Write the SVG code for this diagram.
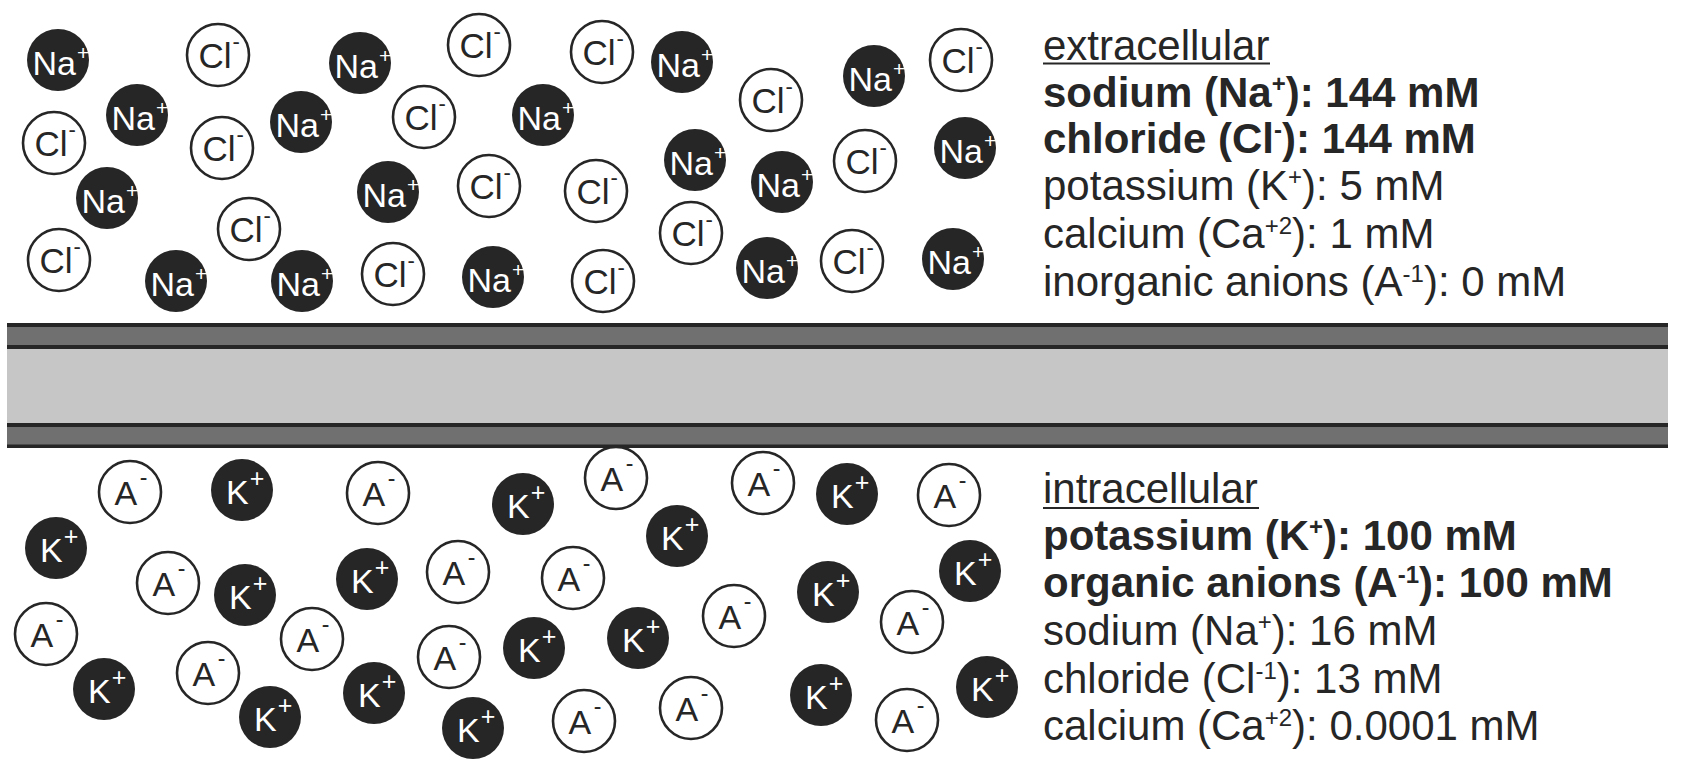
<svg xmlns="http://www.w3.org/2000/svg" xmlns:xlink="http://www.w3.org/1999/xlink" width="1684" height="782" viewBox="0 0 1684 782">
<style>
.ion text{font-family:"Liberation Sans",Arial,sans-serif}
.pos circle{fill:#262626}
.pos text{fill:#fff}
.neg circle{fill:#fff;stroke:#262626;stroke-width:2.6}
.neg text{fill:#262626}
.na text{font-size:34px}
.na tspan{font-size:21px}
.cl text{font-size:35px}
.cl tspan{font-size:22px}
.k text{font-size:34px}
.k tspan{font-size:25px}
.a text{font-size:34px}
.a tspan{font-size:23px}
.lg{font-family:"Liberation Sans",Arial,sans-serif;font-size:42px;fill:#262626}
.b{font-weight:bold}
.sp{font-size:24px}
.ul{stroke:#262626;stroke-width:2}
</style>
<rect width="1684" height="782" fill="#fff"/>
<g id="membrane">
<rect x="7" y="323" width="1661" height="125" fill="#707070"/>
<rect x="7" y="349" width="1661" height="74" fill="#c6c6c6"/>
<rect x="7" y="323" width="1661" height="4" fill="#262626"/>
<rect x="7" y="345" width="1661" height="4" fill="#262626"/>
<rect x="7" y="423" width="1661" height="4" fill="#262626"/>
<rect x="7" y="444.5" width="1661" height="3.5" fill="#262626"/>
</g>
<g id="extracellular-ions">
<g id="na1" class="ion pos na" transform="translate(58,60)"><circle r="31"/><text x="-25.5" y="15">Na<tspan dx="1" dy="-15">+</tspan></text></g>
<g id="na2" class="ion pos na" transform="translate(137,115)"><circle r="31"/><text x="-25.5" y="15">Na<tspan dx="1" dy="-15">+</tspan></text></g>
<g id="na3" class="ion pos na" transform="translate(107,198)"><circle r="31"/><text x="-25.5" y="15">Na<tspan dx="1" dy="-15">+</tspan></text></g>
<g id="na4" class="ion pos na" transform="translate(176,281)"><circle r="31"/><text x="-25.5" y="15">Na<tspan dx="1" dy="-15">+</tspan></text></g>
<g id="na5" class="ion pos na" transform="translate(302,281)"><circle r="31"/><text x="-25.5" y="15">Na<tspan dx="1" dy="-15">+</tspan></text></g>
<g id="na6" class="ion pos na" transform="translate(301,122)"><circle r="31"/><text x="-25.5" y="15">Na<tspan dx="1" dy="-15">+</tspan></text></g>
<g id="na7" class="ion pos na" transform="translate(360,63)"><circle r="31"/><text x="-25.5" y="15">Na<tspan dx="1" dy="-15">+</tspan></text></g>
<g id="na8" class="ion pos na" transform="translate(388,192)"><circle r="31"/><text x="-25.5" y="15">Na<tspan dx="1" dy="-15">+</tspan></text></g>
<g id="na9" class="ion pos na" transform="translate(493,277)"><circle r="31"/><text x="-25.5" y="15">Na<tspan dx="1" dy="-15">+</tspan></text></g>
<g id="na10" class="ion pos na" transform="translate(543,115)"><circle r="31"/><text x="-25.5" y="15">Na<tspan dx="1" dy="-15">+</tspan></text></g>
<g id="na11" class="ion pos na" transform="translate(682,62)"><circle r="31"/><text x="-25.5" y="15">Na<tspan dx="1" dy="-15">+</tspan></text></g>
<g id="na12" class="ion pos na" transform="translate(695,160)"><circle r="31"/><text x="-25.5" y="15">Na<tspan dx="1" dy="-15">+</tspan></text></g>
<g id="na13" class="ion pos na" transform="translate(782,182)"><circle r="31"/><text x="-25.5" y="15">Na<tspan dx="1" dy="-15">+</tspan></text></g>
<g id="na14" class="ion pos na" transform="translate(767,268)"><circle r="31"/><text x="-25.5" y="15">Na<tspan dx="1" dy="-15">+</tspan></text></g>
<g id="na15" class="ion pos na" transform="translate(874,76)"><circle r="31"/><text x="-25.5" y="15">Na<tspan dx="1" dy="-15">+</tspan></text></g>
<g id="na16" class="ion pos na" transform="translate(965,148)"><circle r="31"/><text x="-25.5" y="15">Na<tspan dx="1" dy="-15">+</tspan></text></g>
<g id="na17" class="ion pos na" transform="translate(953,259)"><circle r="31"/><text x="-25.5" y="15">Na<tspan dx="1" dy="-15">+</tspan></text></g>
<g id="cl1" class="ion neg cl" transform="translate(218,55)"><circle r="31"/><text x="-19.5" y="13">Cl<tspan dx="1" dy="-19">-</tspan></text></g>
<g id="cl2" class="ion neg cl" transform="translate(54,143)"><circle r="31"/><text x="-19.5" y="13">Cl<tspan dx="1" dy="-19">-</tspan></text></g>
<g id="cl3" class="ion neg cl" transform="translate(222,148)"><circle r="31"/><text x="-19.5" y="13">Cl<tspan dx="1" dy="-19">-</tspan></text></g>
<g id="cl4" class="ion neg cl" transform="translate(249,229)"><circle r="31"/><text x="-19.5" y="13">Cl<tspan dx="1" dy="-19">-</tspan></text></g>
<g id="cl5" class="ion neg cl" transform="translate(59,260)"><circle r="31"/><text x="-19.5" y="13">Cl<tspan dx="1" dy="-19">-</tspan></text></g>
<g id="cl6" class="ion neg cl" transform="translate(393,274)"><circle r="31"/><text x="-19.5" y="13">Cl<tspan dx="1" dy="-19">-</tspan></text></g>
<g id="cl7" class="ion neg cl" transform="translate(424,117)"><circle r="31"/><text x="-19.5" y="13">Cl<tspan dx="1" dy="-19">-</tspan></text></g>
<g id="cl8" class="ion neg cl" transform="translate(479,45)"><circle r="31"/><text x="-19.5" y="13">Cl<tspan dx="1" dy="-19">-</tspan></text></g>
<g id="cl9" class="ion neg cl" transform="translate(489,186)"><circle r="31"/><text x="-19.5" y="13">Cl<tspan dx="1" dy="-19">-</tspan></text></g>
<g id="cl10" class="ion neg cl" transform="translate(602,52)"><circle r="31"/><text x="-19.5" y="13">Cl<tspan dx="1" dy="-19">-</tspan></text></g>
<g id="cl11" class="ion neg cl" transform="translate(596,191)"><circle r="31"/><text x="-19.5" y="13">Cl<tspan dx="1" dy="-19">-</tspan></text></g>
<g id="cl12" class="ion neg cl" transform="translate(603,281)"><circle r="31"/><text x="-19.5" y="13">Cl<tspan dx="1" dy="-19">-</tspan></text></g>
<g id="cl13" class="ion neg cl" transform="translate(691,233)"><circle r="31"/><text x="-19.5" y="13">Cl<tspan dx="1" dy="-19">-</tspan></text></g>
<g id="cl14" class="ion neg cl" transform="translate(771,100)"><circle r="31"/><text x="-19.5" y="13">Cl<tspan dx="1" dy="-19">-</tspan></text></g>
<g id="cl15" class="ion neg cl" transform="translate(865,161)"><circle r="31"/><text x="-19.5" y="13">Cl<tspan dx="1" dy="-19">-</tspan></text></g>
<g id="cl16" class="ion neg cl" transform="translate(852,261)"><circle r="31"/><text x="-19.5" y="13">Cl<tspan dx="1" dy="-19">-</tspan></text></g>
<g id="cl17" class="ion neg cl" transform="translate(961,60)"><circle r="31"/><text x="-19.5" y="13">Cl<tspan dx="1" dy="-19">-</tspan></text></g>
</g>
<g id="intracellular-ions">
<g id="k1" class="ion pos k" transform="translate(242,490)"><circle r="31"/><text x="-16" y="14">K<tspan dx="1" dy="-17">+</tspan></text></g>
<g id="k2" class="ion pos k" transform="translate(523,504)"><circle r="31"/><text x="-16" y="14">K<tspan dx="1" dy="-17">+</tspan></text></g>
<g id="k3" class="ion pos k" transform="translate(56,548)"><circle r="31"/><text x="-16" y="14">K<tspan dx="1" dy="-17">+</tspan></text></g>
<g id="k4" class="ion pos k" transform="translate(245,595)"><circle r="31"/><text x="-16" y="14">K<tspan dx="1" dy="-17">+</tspan></text></g>
<g id="k5" class="ion pos k" transform="translate(367,579)"><circle r="31"/><text x="-16" y="14">K<tspan dx="1" dy="-17">+</tspan></text></g>
<g id="k6" class="ion pos k" transform="translate(104,689)"><circle r="31"/><text x="-16" y="14">K<tspan dx="1" dy="-17">+</tspan></text></g>
<g id="k7" class="ion pos k" transform="translate(270,717)"><circle r="31"/><text x="-16" y="14">K<tspan dx="1" dy="-17">+</tspan></text></g>
<g id="k8" class="ion pos k" transform="translate(374,693)"><circle r="31"/><text x="-16" y="14">K<tspan dx="1" dy="-17">+</tspan></text></g>
<g id="k9" class="ion pos k" transform="translate(473,728)"><circle r="31"/><text x="-16" y="14">K<tspan dx="1" dy="-17">+</tspan></text></g>
<g id="k10" class="ion pos k" transform="translate(677,536)"><circle r="31"/><text x="-16" y="14">K<tspan dx="1" dy="-17">+</tspan></text></g>
<g id="k11" class="ion pos k" transform="translate(847,494)"><circle r="31"/><text x="-16" y="14">K<tspan dx="1" dy="-17">+</tspan></text></g>
<g id="k12" class="ion pos k" transform="translate(828,592)"><circle r="31"/><text x="-16" y="14">K<tspan dx="1" dy="-17">+</tspan></text></g>
<g id="k13" class="ion pos k" transform="translate(970,571)"><circle r="31"/><text x="-16" y="14">K<tspan dx="1" dy="-17">+</tspan></text></g>
<g id="k14" class="ion pos k" transform="translate(534,648)"><circle r="31"/><text x="-16" y="14">K<tspan dx="1" dy="-17">+</tspan></text></g>
<g id="k15" class="ion pos k" transform="translate(638,638)"><circle r="31"/><text x="-16" y="14">K<tspan dx="1" dy="-17">+</tspan></text></g>
<g id="k16" class="ion pos k" transform="translate(821,695)"><circle r="31"/><text x="-16" y="14">K<tspan dx="1" dy="-17">+</tspan></text></g>
<g id="k17" class="ion pos k" transform="translate(987,687)"><circle r="31"/><text x="-16" y="14">K<tspan dx="1" dy="-17">+</tspan></text></g>
<g id="a1" class="ion neg a" transform="translate(130,492)"><circle r="31"/><text x="-15.5" y="13">A<tspan dx="2.5" dy="-20">-</tspan></text></g>
<g id="a2" class="ion neg a" transform="translate(378,493)"><circle r="31"/><text x="-15.5" y="13">A<tspan dx="2.5" dy="-20">-</tspan></text></g>
<g id="a3" class="ion neg a" transform="translate(168,583)"><circle r="31"/><text x="-15.5" y="13">A<tspan dx="2.5" dy="-20">-</tspan></text></g>
<g id="a4" class="ion neg a" transform="translate(458,572)"><circle r="31"/><text x="-15.5" y="13">A<tspan dx="2.5" dy="-20">-</tspan></text></g>
<g id="a5" class="ion neg a" transform="translate(46,634)"><circle r="31"/><text x="-15.5" y="13">A<tspan dx="2.5" dy="-20">-</tspan></text></g>
<g id="a6" class="ion neg a" transform="translate(312,639)"><circle r="31"/><text x="-15.5" y="13">A<tspan dx="2.5" dy="-20">-</tspan></text></g>
<g id="a7" class="ion neg a" transform="translate(449,657)"><circle r="31"/><text x="-15.5" y="13">A<tspan dx="2.5" dy="-20">-</tspan></text></g>
<g id="a8" class="ion neg a" transform="translate(208,673)"><circle r="31"/><text x="-15.5" y="13">A<tspan dx="2.5" dy="-20">-</tspan></text></g>
<g id="a9" class="ion neg a" transform="translate(616,478)"><circle r="31"/><text x="-15.5" y="13">A<tspan dx="2.5" dy="-20">-</tspan></text></g>
<g id="a10" class="ion neg a" transform="translate(763,483)"><circle r="31"/><text x="-15.5" y="13">A<tspan dx="2.5" dy="-20">-</tspan></text></g>
<g id="a11" class="ion neg a" transform="translate(949,495)"><circle r="31"/><text x="-15.5" y="13">A<tspan dx="2.5" dy="-20">-</tspan></text></g>
<g id="a12" class="ion neg a" transform="translate(573,578)"><circle r="31"/><text x="-15.5" y="13">A<tspan dx="2.5" dy="-20">-</tspan></text></g>
<g id="a13" class="ion neg a" transform="translate(734,616)"><circle r="31"/><text x="-15.5" y="13">A<tspan dx="2.5" dy="-20">-</tspan></text></g>
<g id="a14" class="ion neg a" transform="translate(912,622)"><circle r="31"/><text x="-15.5" y="13">A<tspan dx="2.5" dy="-20">-</tspan></text></g>
<g id="a15" class="ion neg a" transform="translate(584,721)"><circle r="31"/><text x="-15.5" y="13">A<tspan dx="2.5" dy="-20">-</tspan></text></g>
<g id="a16" class="ion neg a" transform="translate(691,708)"><circle r="31"/><text x="-15.5" y="13">A<tspan dx="2.5" dy="-20">-</tspan></text></g>
<g id="a17" class="ion neg a" transform="translate(907,720)"><circle r="31"/><text x="-15.5" y="13">A<tspan dx="2.5" dy="-20">-</tspan></text></g>
</g>
<g id="legend-extracellular">
<text class="lg" x="1043" y="60">extracellular</text>
<line class="ul" x1="1043" y1="63.5" x2="1270" y2="63.5"/>
<text class="lg b" x="1043" y="107">sodium (Na<tspan class="sp" dy="-15">+</tspan><tspan dy="15">): 144 mM</tspan></text>
<text class="lg b" x="1043" y="153">chloride (Cl<tspan class="sp" dy="-15">-</tspan><tspan dy="15">): 144 mM</tspan></text>
<text class="lg" x="1043" y="200">potassium (K<tspan class="sp" dy="-15">+</tspan><tspan dy="15">): 5 mM</tspan></text>
<text class="lg" x="1043" y="248">calcium (Ca<tspan class="sp" dy="-14">+2</tspan><tspan dy="14">): 1 mM</tspan></text>
<text class="lg" x="1043" y="296">inorganic anions (A<tspan class="sp" dy="-14">-1</tspan><tspan dy="14">): 0 mM</tspan></text>
</g>
<g id="legend-intracellular">
<text class="lg" x="1043" y="503">intracellular</text>
<line class="ul" x1="1043" y1="508" x2="1259" y2="508"/>
<text class="lg b" x="1043" y="550">potassium (K<tspan class="sp" dy="-15">+</tspan><tspan dy="15">): 100 mM</tspan></text>
<text class="lg b" x="1043" y="597">organic anions (A<tspan class="sp" dy="-14">-1</tspan><tspan dy="14">): 100 mM</tspan></text>
<text class="lg" x="1043" y="645">sodium (Na<tspan class="sp" dy="-15">+</tspan><tspan dy="15">): 16 mM</tspan></text>
<text class="lg" x="1043" y="693">chloride (Cl<tspan class="sp" dy="-14">-1</tspan><tspan dy="14">): 13 mM</tspan></text>
<text class="lg" x="1043" y="740">calcium (Ca<tspan class="sp" dy="-14">+2</tspan><tspan dy="14">): 0.0001 mM</tspan></text>
</g>
<g id="connectors"/>
</svg>
